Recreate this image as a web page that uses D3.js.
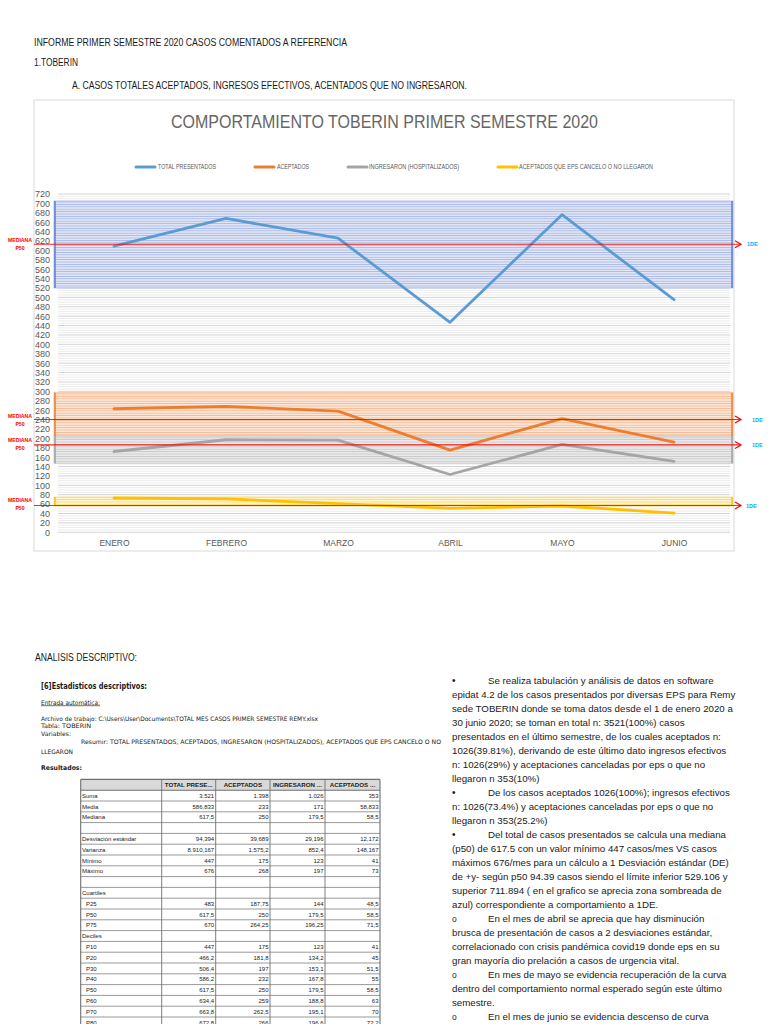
<!DOCTYPE html>
<html><head><meta charset="utf-8">
<script src="https://cdn.jsdelivr.net/npm/d3@7"></script>
<style>body{margin:0;background:#fff}svg{display:block}</style>
</head><body>
<script>
// ---------- DATA ----------
const months = ["ENERO","FEBRERO","MARZO","ABRIL","MAYO","JUNIO"];
const totalPresentados = [609,668,626,447,676,495];
const aceptados = [263,268,258,175,242,192];
const ingresaron = [172,197,196,123,187,151];
const canceladosNoLlegaron = [73,71,61,51,56,41];
const seriesNames = ["TOTAL PRESENTADOS","ACEPTADOS","INGRESARON (HOSPITALIZADOS)","ACEPTADOS QUE EPS CANCELO O NO LLEGARON"];
const bandLow  = [520, 205, 147, 56];
const bandHigh = [705, 297, 205, 75];
const medianMarked = [613, 240, 186, 57];
const yTicks = d3.range(0, 721, 20);

const tableHeader = ["", "TOTAL PRESE...", "ACEPTADOS", "INGRESARON ...", "ACEPTADOS ..."];
const rowLabels = ["Suma","Media","Mediana","","Desviación estándar","Varianza","Mínimo","Máximo","","Cuartiles","P25","P50","P75","Deciles","P10","P20","P30","P40","P50","P60","P70","P80"];
const colTotal = ["3.521","586,833","617,5","","94,394","8.910,167","447","676","","","483","617,5","670","","447","466,2","506,4","586,2","617,5","634,4","663,8","672,8"];
const colAcept = ["1.398","233","250","","39,689","1.575,2","175","268","","","187,75","250","264,25","","175","181,8","197","232","250","259","262,5","266"];
const colIngr  = ["1.026","171","179,5","","29,196","852,4","123","197","","","144","179,5","196,25","","123","134,2","153,1","167,8","179,5","188,8","195,1","196,6"];
const colCanc  = ["353","58,833","58,5","","12,172","148,167","41","73","","","48,5","58,5","71,5","","41","45","51,5","55","58,5","63","70","72,2"];

const paragraph = [
 ["•","Se realiza tabulación y análisis de datos en software"],
 ["","epidat 4.2 de los casos presentados por diversas EPS para Remy"],
 ["","sede TOBERIN donde se toma datos desde el 1 de enero 2020 a"],
 ["","30 junio 2020; se toman en total n: 3521(100%) casos"],
 ["","presentados en el último semestre, de los cuales aceptados n:"],
 ["","1026(39.81%), derivando de este último dato ingresos efectivos"],
 ["","n: 1026(29%) y aceptaciones canceladas por eps o que no"],
 ["","llegaron n 353(10%)"],
 ["•","De los casos aceptados 1026(100%); ingresos efectivos"],
 ["","n: 1026(73.4%) y aceptaciones canceladas por eps o que no"],
 ["","llegaron n 353(25.2%)"],
 ["•","Del total de casos presentados se calcula una mediana"],
 ["","(p50) de 617.5 con un valor mínimo 447 casos/mes VS casos"],
 ["","máximos 676/mes para un cálculo a 1 Desviación estándar (DE)"],
 ["","de +y- según p50 94.39 casos siendo el límite inferior 529.106 y"],
 ["","superior 711.894 ( en el grafico se aprecia zona sombreada de"],
 ["","azul) correspondiente a comportamiento a 1DE."],
 ["o","En el mes de abril se aprecia que hay disminución"],
 ["","brusca de presentación de casos a 2 desviaciones estándar,"],
 ["","correlacionado con crisis pandémica covid19 donde eps en su"],
 ["","gran mayoría dio prelación a casos de urgencia vital."],
 ["o","En mes de mayo se evidencia recuperación de la curva"],
 ["","dentro del comportamiento normal esperado según este último"],
 ["","semestre."],
 ["o","En el mes de junio se evidencia descenso de curva"]
];

// ---------- STYLE ----------
const FONT = "'Liberation Sans', Arial, sans-serif";
const seriesColors = ["#5b9bd5","#ed7d31","#a5a5a5","#ffc000"];
const bandBase   = ["#dde3f4","#fce6d6","#e8e8e8","#fff3cc"];
const bandStripe = ["#a3b4e4","#f6b085","#c4c4c4","#ffd870"];
const bandEdge   = ["#5a80d2","#ed7d31","#a0a0a0","#ffc000"];

const svg = d3.select("body").append("svg").attr("width",768).attr("height",1024)
  .style("font-family", FONT);
svg.append("rect").attr("width",768).attr("height",1024).attr("fill","#fff");

// ---------- HEADER TEXT ----------
const hdr = [
 {t:"INFORME PRIMER SEMESTRE 2020 CASOS COMENTADOS A REFERENCIA", x:34, y:46, w:313},
 {t:"1.TOBERIN", x:34, y:66, w:44},
 {t:"A. CASOS TOTALES ACEPTADOS, INGRESOS EFECTIVOS, ACENTADOS QUE NO INGRESARON.", x:72, y:89, w:395},
 {t:"ANALISIS DESCRIPTIVO:", x:35, y:661, w:102}
];
svg.selectAll("text.hdr").data(hdr).join("text").attr("class","hdr")
  .attr("x",d=>d.x).attr("y",d=>d.y).attr("font-size",10).attr("fill","#1a1a1a")
  .attr("textLength",d=>d.w).attr("lengthAdjust","spacingAndGlyphs").text(d=>d.t);

// ---------- CHART ----------
svg.append("rect").attr("x",34).attr("y",100).attr("width",700).attr("height",451)
  .attr("fill","#fff").attr("stroke","#d9d9d9").attr("stroke-width",1);

svg.append("text").attr("x",171).attr("y",128).attr("font-size",19).attr("fill","#666")
  .attr("textLength",427).attr("lengthAdjust","spacingAndGlyphs")
  .text("COMPORTAMIENTO TOBERIN  PRIMER SEMESTRE 2020");

const x = d3.scalePoint().domain(months).range([58,730]).padding(0.5);
const y = d3.scaleLinear().domain([0,720]).range([532.3,194]);

// gridlines
const g = svg.append("g");
g.selectAll("line.minor").data(d3.range(0,721,5)).join("line")
  .attr("x1",58).attr("x2",730).attr("y1",d=>y(d)).attr("y2",d=>y(d))
  .attr("stroke",d=>d%20===0?"#d4d4d4":"#ececec").attr("stroke-width",1);

// patterns
const defs = svg.append("defs");
bandBase.forEach((c,i)=>{
  const p = defs.append("pattern").attr("id","pat"+i).attr("patternUnits","userSpaceOnUse")
    .attr("width",8).attr("height",2.4);
  p.append("rect").attr("width",8).attr("height",2.4).attr("fill",c);
  p.append("rect").attr("width",8).attr("height",0.8).attr("fill",bandStripe[i]);
});

// bands
const bands = bandLow.map((lo,i)=>({lo, hi:bandHigh[i], i}));
const bg = svg.append("g");
bg.selectAll("rect.band").data(bands).join("rect")
  .attr("x",54).attr("width",679)
  .attr("y",d=>y(d.hi)).attr("height",d=>y(d.lo)-y(d.hi))
  .attr("fill",d=>"url(#pat"+d.i+")").attr("fill-opacity",0.92)
  .attr("stroke",d=>bandStripe[d.i]).attr("stroke-width",0.8);
bg.selectAll("line.bl").data(bands).join("line")
  .attr("x1",55).attr("x2",55).attr("y1",d=>y(d.hi)).attr("y2",d=>y(d.lo))
  .attr("stroke",d=>bandEdge[d.i]).attr("stroke-width",2).attr("opacity",0.75);
bg.selectAll("line.br").data(bands).join("line")
  .attr("x1",732).attr("x2",732).attr("y1",d=>y(d.hi)).attr("y2",d=>y(d.lo))
  .attr("stroke",d=>bandEdge[d.i]).attr("stroke-width",2).attr("opacity",0.75);

// axes
const ya = svg.append("g").attr("transform","translate(52,0)")
  .call(d3.axisLeft(y).tickValues(yTicks).tickSize(0).tickPadding(2));
ya.select(".domain").remove();
ya.selectAll("text").attr("font-size",9).attr("fill","#595959").style("font-family",FONT);

const xa = svg.append("g").attr("transform","translate(0,532.3)")
  .call(d3.axisBottom(x).tickSize(0).tickPadding(8));
xa.select(".domain").remove();
xa.selectAll("text").attr("font-size",8.5).attr("fill","#595959").style("font-family",FONT);

// series lines
const allSeries = [totalPresentados, aceptados, ingresaron, canceladosNoLlegaron];
const line = d3.line().x((d,i)=>x(months[i])).y(d=>y(d));
svg.append("g").selectAll("path").data(allSeries).join("path")
  .attr("d",line).attr("fill","none")
  .attr("stroke",(d,i)=>seriesColors[i]).attr("stroke-width",2.8)
  .attr("stroke-linejoin","round").attr("stroke-linecap","round");

// median lines
const mg = svg.append("g");
mg.selectAll("line").data(medianMarked).join("line")
  .attr("x1",34).attr("x2",740).attr("y1",d=>y(d)).attr("y2",d=>y(d))
  .attr("stroke","#ff0000").attr("stroke-width",1.1).attr("opacity",0.85);
mg.selectAll("path").data(medianMarked).join("path")
  .attr("d",d=>`M735,${y(d)-3.5}L741,${y(d)}L735,${y(d)+3.5}`)
  .attr("fill","none").attr("stroke","#ff0000").attr("stroke-width",1.2);
const deX = [747,752,752,746];
mg.selectAll("text.de").data(medianMarked).join("text").attr("class","de")
  .attr("x",(d,i)=>deX[i]).attr("y",d=>y(d)+2)
  .attr("font-size",5.5).attr("font-weight","bold").attr("fill","#00b0f0").text("1DE");
const medLblOff = [[-2,6],[-2,5.5],[-3,4.5],[-4,4]];
medianMarked.forEach((m,i)=>{
  svg.append("text").attr("x",20).attr("y",y(m)+medLblOff[i][0]).attr("text-anchor","middle")
    .attr("font-size",5.2).attr("font-weight","bold").attr("fill","#ff0000").text("MEDIANA");
  svg.append("text").attr("x",20).attr("y",y(m)+medLblOff[i][0]+8).attr("text-anchor","middle")
    .attr("font-size",5.2).attr("font-weight","bold").attr("fill","#ff0000").text("P50");
});

// legend
const legPos = [{s:136,t:158,w:58},{s:255,t:277,w:32},{s:348,t:369,w:90},{s:498,t:519,w:134}];
const lg = svg.append("g");
seriesNames.forEach((n,i)=>{
  lg.append("line").attr("x1",legPos[i].s).attr("x2",legPos[i].s+19).attr("y1",167).attr("y2",167)
    .attr("stroke",seriesColors[i]).attr("stroke-width",3).attr("stroke-linecap","round");
  lg.append("text").attr("x",legPos[i].t).attr("y",169.3).attr("font-size",6.5).attr("fill","#595959")
    .attr("textLength",legPos[i].w).attr("lengthAdjust","spacingAndGlyphs").text(n);
});

// ---------- LEFT BLOCK ----------
const TFONT = "'DejaVu Sans', Verdana, sans-serif";
const lb = svg.append("g").style("font-family",TFONT).attr("fill","#1a1a1a");
lb.append("text").attr("x",41).attr("y",689).attr("font-size",8.3).attr("font-weight","bold")
  .attr("textLength",106).attr("lengthAdjust","spacingAndGlyphs").text("[6]Estadisticos descriptivos:");
lb.append("text").attr("x",41).attr("y",704.5).attr("font-size",6.3).attr("text-decoration","underline")
  .attr("textLength",59).attr("lengthAdjust","spacingAndGlyphs").text("Entrada automática:");
const smallLines = [
 {t:"Archivo de trabajo: C:\\Users\\User\\Documents\\TOTAL MES CASOS PRIMER SEMESTRE REMY.xlsx", x:41, y:721, w:277},
 {t:"Tabla: TOBERIN", x:41, y:728.3, w:50},
 {t:"Variables:", x:41, y:735.5, w:30},
 {t:"Resumir: TOTAL PRESENTADOS, ACEPTADOS, INGRESARON (HOSPITALIZADOS), ACEPTADOS QUE EPS CANCELO O NO", x:81, y:744, w:360},
 {t:"LLEGARON", x:41, y:754, w:32}
];
lb.selectAll("text.sl").data(smallLines).join("text").attr("class","sl")
  .attr("x",d=>d.x).attr("y",d=>d.y).attr("font-size",6.1)
  .attr("textLength",d=>d.w).attr("lengthAdjust","spacingAndGlyphs").text(d=>d.t);
lb.append("text").attr("x",41).attr("y",769.5).attr("font-size",6.5).attr("font-weight","bold")
  .attr("textLength",41).attr("lengthAdjust","spacingAndGlyphs").text("Resultados:");

// table
const colX = [80.7,161.7,215.7,270,325,380];
const rowH = 10.8, top0 = 779.4;
const tb = svg.append("g").style("font-family",FONT);
tb.append("rect").attr("x",colX[0]).attr("y",top0).attr("width",colX[5]-colX[0]).attr("height",rowH)
  .attr("fill","#d9d9d9");
const cols = [colTotal,colAcept,colIngr,colCanc];
const nRows = rowLabels.length;
tb.selectAll("line.h").data(d3.range(nRows+2)).join("line")
  .attr("x1",colX[0]).attr("x2",colX[5])
  .attr("y1",d=>top0+d*rowH).attr("y2",d=>top0+d*rowH)
  .attr("stroke","#6f6f6f").attr("stroke-width",d=>d<2?1.1:0.7);
tb.selectAll("line.v").data(colX).join("line")
  .attr("x1",d=>d).attr("x2",d=>d).attr("y1",top0).attr("y2",top0+(nRows+1)*rowH)
  .attr("stroke","#6f6f6f").attr("stroke-width",(d,i)=>(i===0||i===5)?1.1:0.9);
tableHeader.forEach((h,j)=>{
  if(!h) return;
  tb.append("text").attr("x",(colX[j]+colX[j+1])/2).attr("y",top0+rowH/2+2.2)
    .attr("text-anchor","middle").attr("font-size",6.2).attr("font-weight","bold").attr("fill","#222").text(h);
});
rowLabels.forEach((r,i)=>{
  const yy = top0+(i+1)*rowH+rowH/2+2.1;
  if(r) tb.append("text").attr("x",/^P\d/.test(r)?86:82).attr("y",yy).attr("font-size",6)
    .attr("fill","#222").text(r);
  cols.forEach((c,j)=>{
    if(c[i]) tb.append("text").attr("x",colX[j+2]-1.5).attr("y",yy).attr("text-anchor","end")
      .attr("font-size",6).attr("fill","#222").text(c[i]);
  });
});

// ---------- RIGHT PARAGRAPH ----------
const pg = svg.append("g").attr("fill","#1a1a1a").attr("font-size",9.9);
const ref = pg.append("text").text("Del total de casos presentados se calcula una mediana");
const k = 238 / ref.node().getComputedTextLength();
ref.remove();
paragraph.forEach((p,i)=>{
  const yy = 683.5 + i*14.04;
  const x0 = p[0] ? 488 : 452;
  if(p[0]) pg.append("text").attr("x",452).attr("y",yy).attr("font-size",p[0]==="•"?10:8.5).text(p[0]);
  const t = pg.append("text").attr("x",x0).attr("y",yy).text(p[1]);
  const w = t.node().getComputedTextLength();
  t.attr("textLength",w*k).attr("lengthAdjust","spacingAndGlyphs");
});
</script>
</body></html>
